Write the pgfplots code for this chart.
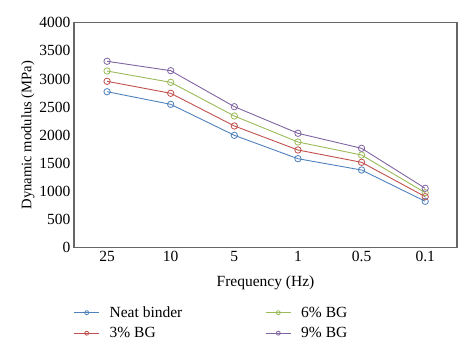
\documentclass[border=0pt]{standalone}
\usepackage{fontspec}
\setmainfont{Liberation Serif}
\usepackage{pgfplots}
\pgfplotsset{compat=1.18}
\definecolor{cblue}{HTML}{4F81BD}
\definecolor{cred}{HTML}{C0504D}
\definecolor{cgreen}{HTML}{9BBB59}
\definecolor{cpurple}{HTML}{8064A2}
\begin{document}
\begin{tikzpicture}
\begin{axis}[
  at={(74bp,105.3bp)}, anchor=south west,
  scale only axis, width=383bp, height=225bp,
  xmin=-0.52, xmax=5.5, ymin=0, ymax=4000,
  xtick={0,1,2,3,4,5}, xticklabels={25,10,5,1,0.5,0.1},
  ytick={0,500,...,4000},
  major tick length=0pt,
  axis line style={draw=black!60, line width=1.1pt},
  font=\fontsize{15.5bp}{18bp}\selectfont,
  tick label style={font=\fontsize{15.5bp}{18bp}\selectfont},
  /pgf/number format/assume math mode=true,
  /pgf/number format/set thousands separator={},
  xlabel={Frequency (Hz)}, ylabel={Dynamic modulus (MPa)},
  xlabel style={yshift=-7bp},
  ylabel style={yshift=-2bp, font=\fontsize{14.6bp}{17bp}\selectfont},
  every axis plot/.append style={line width=0.9pt, mark=o, mark size=3.2pt, mark options={line width=0.8pt}},
  legend columns=2,
  legend cell align=left,
  legend style={draw=none, at={(-0.009,-0.243)}, anchor=north west, font=\fontsize{15.5bp}{18bp}\selectfont,
    /tikz/every odd column/.append style={column sep=8bp},
    /tikz/every even column/.append style={column sep=81bp}, row sep=4.5bp},
  legend image code/.code={\draw[mark repeat=2,mark phase=2,mark size=2pt] plot coordinates {(0bp,0bp) (12.5bp,0bp) (25bp,0bp)};},
]
\addplot[cblue] coordinates {(0,2773) (1,2549) (2,1998) (3,1582) (4,1381) (5,825)};
\addlegendentry{Neat binder}
\addplot[cgreen] coordinates {(0,3141) (1,2940) (2,2341) (3,1879) (4,1648) (5,978)};
\addlegendentry{6\% BG}
\addplot[cred] coordinates {(0,2958) (1,2745) (2,2164) (3,1737) (4,1518) (5,907)};
\addlegendentry{3\% BG}
\addplot[cpurple] coordinates {(0,3314) (1,3147) (2,2507) (3,2034) (4,1767) (5,1056)};
\addlegendentry{9\% BG}
\end{axis}
\pgfresetboundingbox
\path (0,0) rectangle (474bp,353bp);
\end{tikzpicture}
\end{document}
